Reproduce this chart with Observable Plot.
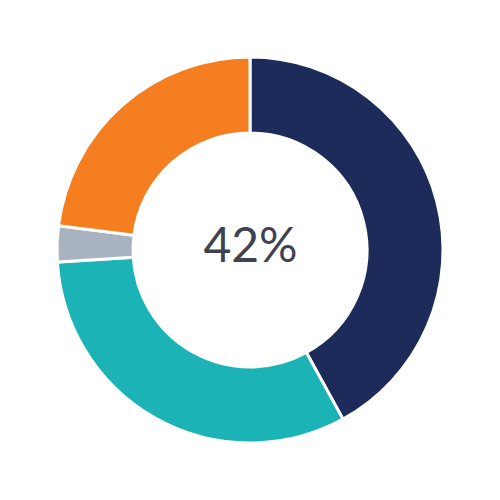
<!DOCTYPE html>
<html>
<head>
<meta charset="utf-8">
<script src="https://cdn.jsdelivr.net/npm/d3@7"></script>
<script src="https://cdn.jsdelivr.net/npm/@observablehq/plot@0.6"></script>
<style>
  html, body { margin: 0; padding: 0; background: #ffffff; }
  #chart { width: 500px; height: 500px; }
</style>
</head>
<body>
<div id="chart"></div>
<script>
const categories = ["A", "B", "C", "D"];
const values = [42, 32, 3, 23];
const colors = ["#1c2b5a", "#1bb3b6", "#a9b2c0", "#f47e20"];
const centerLabel = values[0] + "%";

const table = categories.map((c, i) => ({category: c, value: values[i]}));
const pie = d3.pie().sort(null).value(d => d.value)(table);

function donut(index, scales, vals, dimensions) {
  const sx = scales.x, sy = scales.y;
  const cx = sx(0), cy = sy(0);
  const rOuter = Math.abs(sx(193) - sx(0));
  const rInner = Math.abs(sx(117) - sx(0));
  const arc = d3.arc().innerRadius(rInner).outerRadius(rOuter);
  const g = d3.create("svg:g").attr("transform", `translate(${cx},${cy})`);
  g.selectAll("path")
    .data(pie)
    .join("path")
    .attr("d", arc)
    .attr("fill", d => scales.color ? scales.color(d.data.category) : colors[d.index])
    .attr("stroke", "#ffffff")
    .attr("stroke-width", 3)
    .attr("stroke-linejoin", "miter");
  return g.node();
}

const chart = Plot.plot({
  width: 500,
  height: 500,
  margin: 0,
  x: {domain: [-250, 250], axis: null},
  y: {domain: [-250, 250], axis: null},
  color: {domain: categories, range: colors},
  style: {background: "#ffffff", fontFamily: "Lato, sans-serif"},
  marks: [
    donut,
    Plot.text([centerLabel], {
      x: () => 0, y: () => 0, text: d => d,
      fontSize: 48, fill: "#3d4350", dy: -4
    })
  ]
});
document.getElementById("chart").appendChild(chart);
</script>
</body>
</html>
